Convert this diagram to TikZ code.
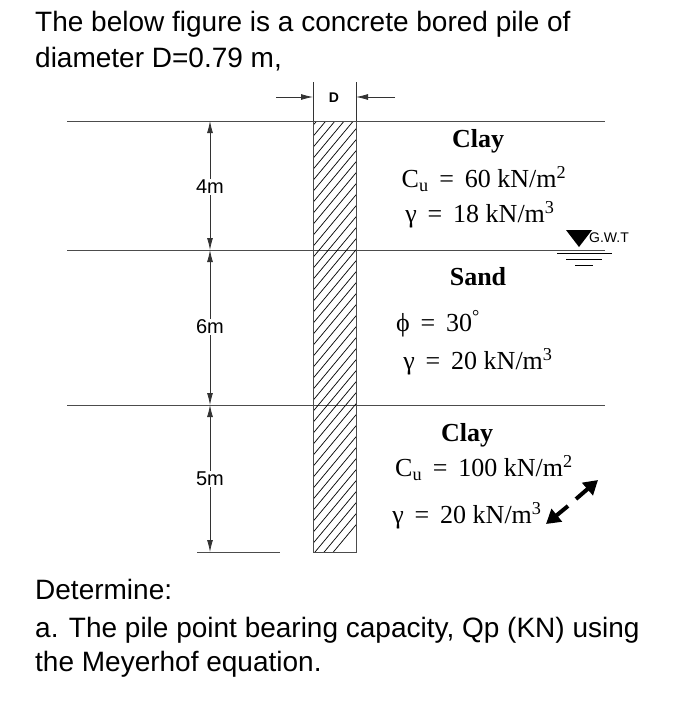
\documentclass[tikz,border=0pt]{standalone}
\usepackage{fontspec}
\setmainfont{Liberation Serif}
\newfontfamily\sans{Liberation Sans}
\usetikzlibrary{arrows.meta}
\begin{document}
\begin{tikzpicture}[x=1pt,y=-1pt,
  q/.style={font=\sans\fontsize{28}{32}\selectfont,anchor=base west,inner sep=0},
  soil/.style={font=\fontsize{26}{30}\selectfont,inner sep=0},
  bsoil/.style={font=\bfseries\fontsize{26}{30}\selectfont,inner sep=0},
  dim/.style={font=\sans\fontsize{20}{22}\selectfont,fill=white,inner sep=1pt},
  lay/.style={draw=black!70,line width=1pt},
  dl/.style={draw=black!80,line width=0.8pt,>={Latex[length=12pt,width=6pt]}}]
\useasboundingbox (0,0) rectangle (682,716);
\fill[white] (0,0) rectangle (682,716);
\node[q] (t1) at (35,31) {The below figure is a concrete bored pile of};
\node[q] (t2) at (35,67) {diameter D=0.79 m,};
\node[q] (t3) at (35,599) {Determine:};
\node[q] (t4) at (35,637) {a. The pile point bearing capacity, Qp (KN) using};
\node[q] (t5) at (35,671) {the Meyerhof equation.};
% layers
\draw[lay] (67,121) -- (605,121);
\draw[lay] (67,250) -- (605,250);
\draw[lay] (67,405) -- (605,405);
\draw[lay] (197,552) -- (280,552);
% pile
\begin{scope}
\clip (313,121) rectangle (356,552);
\foreach \k in {0,...,42} {\draw[line width=0.7pt] (300,130+11*\k) -- (370,116+11*\k-70);}
\end{scope}
\draw[lay] (313,121) rectangle (356,552);
\draw[dl] (313,121) -- (313,82); \draw[dl] (356,121) -- (356,82);
\node[font=\sans\bfseries\fontsize{14}{16}\selectfont] (D) at (334,98) {D};
\coordinate (pl) at (313,97); \coordinate (pr) at (356,97);
\draw[dl,->] (276,97) -- (pl);
\draw[dl,->] (395,97) -- (pr);
% dimensions
\coordinate (a) at (210,121); \coordinate (b) at (210,250);
\coordinate (c) at (210,405); \coordinate (d) at (210,552);
\foreach \p/\r in {a/b,b/c,c/d}
  \draw[dl,<->] (\p) -- (\r);
\node[dim] (m4) at (210,187) {4m};
\node[dim] (m6) at (210,327) {6m};
\node[dim] (m5) at (210,479) {5m};
% soil text
\node[bsoil] (c1) at (478,141) {Clay};
\node[soil] (c2) at (484,179) {C\textsubscript{u} \,=\, 60 kN/m\textsuperscript{2}};
\node[soil] (c3) at (480,215) {γ \,=\, 18 kN/m\textsuperscript{3}};
\node[bsoil] (s1) at (478,277) {Sand};
\node[soil] (s2) at (438,324) {ϕ \,=\, 30\textsuperscript{\textdegree}};
\node[soil] (s3) at (478,362) {γ \,=\, 20 kN/m\textsuperscript{3}};
\node[bsoil] (l1) at (467,435) {Clay};
\node[soil] (l2) at (484,468) {C\textsubscript{u} \,=\, 100 kN/m\textsuperscript{2}};
\node[soil] (l3) at (467,516) {γ \,=\, 20 kN/m\textsuperscript{3}};
% GWT
\fill (566,230) -- (592,230) -- (579,247) -- cycle;
\node[font=\sans\fontsize{14}{16}\selectfont,anchor=west,inner sep=0] (g) at (589,238) {G.W.T};
\draw[line width=1pt] (557,253) -- (612,253);
\draw[line width=1pt] (566,259) -- (602,259);
\draw[line width=1pt] (575,265) -- (593,265);
% expand icon
\coordinate (e1) at (546,524); \coordinate (e2) at (598,480);
\coordinate (m1) at (568,506); \coordinate (m2) at (576,499);
\draw[line width=4pt,-{Triangle[length=14pt,width=16pt]}] (m1) -- (e1);
\draw[line width=4pt,-{Triangle[length=14pt,width=16pt]}] (m2) -- (e2);
\end{tikzpicture}
\end{document}
